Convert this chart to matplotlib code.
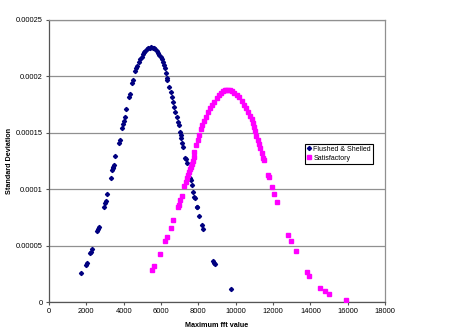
import matplotlib
matplotlib.use('Agg')
import matplotlib.pyplot as plt

plt.rcParams['font.family'] = ['Liberation Sans', 'DejaVu Sans']

# Flushed & Shelled samples: max fft value vs. standard deviation
flushed_x = [1731, 1982, 2036, 2196, 2250, 2304, 2589, 2643, 2670, 2946,
             3000, 3036, 3107, 3304, 3393, 3420, 3446, 3482, 3554, 3768,
             3821, 3911, 3964, 4018, 4071, 4125, 4268, 4322, 4464, 4518,
             4625, 4678, 4732, 4838, 4891, 4966, 5020, 5089, 5159, 5234,
             5303, 5395, 5464, 5555, 5625, 5695, 5770, 5839, 5909, 5984,
             6053, 6107, 6161, 6214, 6268, 6300, 6337, 6445, 6520, 6589,
             6659, 6712, 6766, 6841, 6895, 6948, 7018, 7055, 7087, 7125,
             7194, 7286, 7323, 7377, 7553, 7591, 7645, 7730, 7784, 7821,
             7912, 7929, 8051, 8179, 8232, 8804, 8840, 8875, 9750]
flushed_y = [2.54e-5, 3.25e-5, 3.43e-5, 4.32e-5, 4.43e-5, 4.73e-5, 6.27e-5, 6.50e-5, 6.62e-5, 8.40e-5,
             8.80e-5, 8.93e-5, 9.57e-5, 1.097e-4, 1.17e-4, 1.185e-4, 1.20e-4, 1.217e-4, 1.297e-4, 1.412e-4,
             1.436e-4, 1.54e-4, 1.578e-4, 1.607e-4, 1.643e-4, 1.708e-4, 1.82e-4, 1.841e-4, 1.944e-4, 1.968e-4,
             2.045e-4, 2.072e-4, 2.092e-4, 2.130e-4, 2.152e-4, 2.175e-4, 2.196e-4, 2.214e-4, 2.228e-4, 2.240e-4,
             2.249e-4, 2.254e-4, 2.258e-4, 2.254e-4, 2.249e-4, 2.240e-4, 2.225e-4, 2.210e-4, 2.192e-4, 2.175e-4,
             2.152e-4, 2.128e-4, 2.098e-4, 2.074e-4, 2.03e-4, 1.99e-4, 1.968e-4, 1.909e-4, 1.864e-4, 1.82e-4,
             1.776e-4, 1.731e-4, 1.687e-4, 1.643e-4, 1.598e-4, 1.569e-4, 1.510e-4, 1.480e-4, 1.451e-4, 1.407e-4,
             1.371e-4, 1.274e-4, 1.268e-4, 1.230e-4, 1.097e-4, 1.081e-4, 1.037e-4, 9.78e-5, 9.33e-5, 9.19e-5,
             8.45e-5, 8.40e-5, 7.62e-5, 6.80e-5, 6.47e-5, 3.66e-5, 3.50e-5, 3.37e-5, 1.13e-5]

# Satisfactory samples
satis_x = [5502, 5609, 5946, 6214, 6321, 6536, 6659, 6911, 6964, 7034,
           7109, 7248, 7323, 7377, 7430, 7484, 7537, 7591, 7645, 7698,
           7750, 7784, 7875, 7966, 8051, 8127, 8212, 8304, 8411, 8534,
           8625, 8748, 8855, 8982, 9107, 9214, 9339, 9428, 9482, 9605,
           9700, 9787, 9927, 10055, 10178, 10323, 10430, 10537, 10644, 10767,
           10858, 10944, 10998, 11035, 11105, 11180, 11250, 11319, 11394, 11464,
           11534, 11750, 11786, 11946, 12069, 12198, 12820, 12948, 13215, 13805,
           13928, 14518, 14786, 15016, 15911]
satis_y = [2.87e-5, 3.22e-5, 4.28e-5, 5.41e-5, 5.76e-5, 6.59e-5, 7.24e-5, 8.45e-5, 8.60e-5, 9.04e-5,
           9.42e-5, 1.028e-4, 1.066e-4, 1.097e-4, 1.126e-4, 1.150e-4, 1.176e-4, 1.199e-4, 1.223e-4, 1.250e-4,
           1.288e-4, 1.332e-4, 1.392e-4, 1.436e-4, 1.480e-4, 1.531e-4, 1.569e-4, 1.607e-4, 1.643e-4, 1.687e-4,
           1.717e-4, 1.746e-4, 1.776e-4, 1.806e-4, 1.835e-4, 1.855e-4, 1.873e-4, 1.876e-4, 1.879e-4, 1.879e-4,
           1.877e-4, 1.873e-4, 1.855e-4, 1.835e-4, 1.815e-4, 1.785e-4, 1.746e-4, 1.717e-4, 1.687e-4, 1.649e-4,
           1.620e-4, 1.584e-4, 1.554e-4, 1.52e-4, 1.472e-4, 1.436e-4, 1.401e-4, 1.363e-4, 1.318e-4, 1.274e-4,
           1.259e-4, 1.126e-4, 1.111e-4, 1.017e-4, 9.55e-5, 8.89e-5, 5.94e-5, 5.44e-5, 4.49e-5, 2.69e-5,
           2.33e-5, 1.27e-5, 9.75e-6, 6.8e-6, 1.8e-6]

x_ticks = [0, 2000, 4000, 6000, 8000, 10000, 12000, 14000, 16000, 18000]
y_ticks = [0, 0.00005, 0.0001, 0.00015, 0.0002, 0.00025]
y_tick_labels = ['0', '0.00005', '0.0001', '0.00015', '0.0002', '0.00025']

fig = plt.figure(figsize=(4.74, 3.31), dpi=100)
ax = fig.add_axes([0.1034, 0.0876, 0.709, 0.852])

ax.plot(flushed_x, flushed_y, linestyle='none', marker='D', ms=2.1,
        color='#000080', mec='#000080', label='Flushed & Shelled', zorder=3)
ax.plot(satis_x, satis_y, linestyle='none', marker='s', ms=2.6,
        color='#FF00FF', mec='#FF00FF', label='Satisfactory', zorder=3)

ax.set_xlim(0, 18000)
ax.set_ylim(0, 0.00025)
ax.set_xticks(x_ticks)
ax.set_xticklabels([str(t) for t in x_ticks])
ax.set_yticks(y_ticks)
ax.set_yticklabels(y_tick_labels)

ax.yaxis.grid(True, color='#909090', linewidth=0.9)
ax.set_axisbelow(True)
for side in ['top', 'right']:
    ax.spines[side].set_color('#909090')
for side in ['left', 'bottom']:
    ax.spines[side].set_color('#555555')
for sp in ax.spines.values():
    sp.set_linewidth(0.9)

ax.tick_params(axis='both', labelsize=5.4, length=2.5, width=0.8,
               color='#555555', pad=2)

ax.set_xlabel('Maximum fft value', fontsize=5.2, fontweight='bold', labelpad=5)
ax.set_ylabel('Standard Deviation', fontsize=5.2, fontweight='bold', labelpad=2)

leg = ax.legend(loc='upper left', bbox_to_anchor=(0.762, 0.562), fontsize=5.0,
                frameon=True, fancybox=False, edgecolor='black', framealpha=1,
                handlelength=0.6, handletextpad=0.3, borderpad=0.3,
                labelspacing=0.3, borderaxespad=0)
leg.get_frame().set_linewidth(0.8)

fig.savefig('out.png', dpi=100)
